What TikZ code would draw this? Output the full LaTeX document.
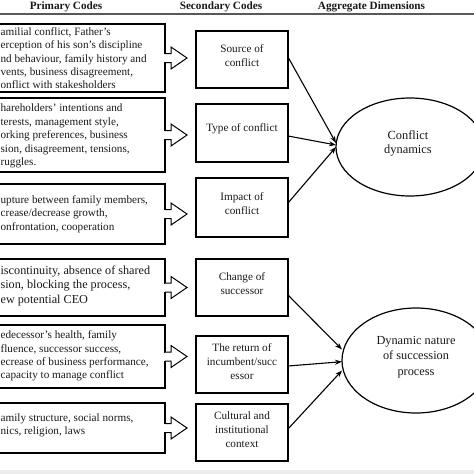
\documentclass[tikz,border=0pt]{standalone}
\usepackage{fontspec}
\setmainfont{Liberation Serif}
\usetikzlibrary{arrows.meta,shapes.geometric,calc}
\newcommand\myblockarrow[1]{%
  \fill[white] ([shift={(-1.2pt,4pt)}]#1.east) rectangle ([shift={(1.5pt,-4pt)}]#1.east);
  \draw[line width=1pt,fill=white] ([yshift=4.5pt]#1.east) -- ++(6,0) -- ++(0,-6.5) -- ++(16,11) -- ++(-16,11) -- ++(0,-6.5) -- ++(-6,0);
}
\begin{document}
\begin{tikzpicture}[x=1pt,y=-1pt,
  every node/.style={outer sep=0pt},
  pbox/.style={draw,line width=1.6pt,minimum width=185pt,inner sep=0pt,anchor=east},
  sbox/.style={draw,line width=1.2pt,minimum width=92pt,inner sep=0pt},
  ptext/.style={anchor=west,align=left,inner sep=0pt,text=black!90,font=\fontsize{11.2}{13.4}\selectfont},
  stext/.style={align=center,inner sep=0pt,text=black!90,font=\fontsize{11.2}{13.8}\selectfont},
  head/.style={inner sep=0pt,text=black!90,font=\bfseries\fontsize{11.2}{13}\selectfont},
  dim/.style={draw,ellipse,line width=1.2pt,inner sep=0pt,minimum width=148pt},
  etext/.style={align=center,inner sep=0pt,text=black!90},
  conn/.style={line width=1.1pt,-{Stealth[length=7pt,width=5pt]}}]
\useasboundingbox (0,0) rectangle (474,474);
\clip (0,0) rectangle (474,474);
\fill[black!7] (0,470) rectangle (474,474);
% header
\node[head] (h1) at (66,7) {Primary Codes};
\node[head] (h2) at (221,7) {Secondary Codes};
\node[head] (h3) at (371.5,7) {Aggregate Dimensions};
\coordinate (hl) at (0,14);
\coordinate (hr) at (474,14);
\draw[black!65,line width=1.4pt] (hl) -- (hr);
% primary boxes
\node[pbox,minimum height=68pt] (p1) at (165,58) {};
\node[pbox,minimum height=74pt] (p2) at (165,135) {};
\node[pbox,minimum height=60pt] (p3) at (165,214) {};
\node[pbox,minimum height=57pt] (p4) at (165,287.5) {};
\node[pbox,minimum height=63pt] (p5) at (165,356.5) {};
\node[pbox,minimum height=50pt] (p6) at (165,428) {};
\node[ptext] (p1t) at (0.6,58.3) {amilial conflict, Father’s\\erception of his son’s discipline\\nd behaviour, family history and\\vents, business disagreement,\\onflict with stakesholders};
\node[ptext] (p2t) at (0.6,136) {hareholders’ intentions and\\terests, management style,\\orking preferences, business\\sion, disagreement, tensions,\\ruggles.};
\node[ptext] (p3t) at (0.6,214) {upture between family members,\\crease/decrease growth,\\onfrontation, cooperation};
\node[ptext,font=\fontsize{12.2}{14.5}\selectfont] (p4t) at (0.6,285.7) {iscontinuity, absence of shared\\sion, blocking the process,\\ew potential CEO};
\node[ptext] (p5t) at (0.6,356) {edecessor’s health, family\\fluence, successor success,\\ecrease of business performance,\\capacity to manage conflict};
\node[ptext] (p6t) at (0.6,425.5) {amily structure, social norms,\\nics, religion, laws};
% block arrows
\myblockarrow{p1}
\myblockarrow{p2}
\myblockarrow{p3}
\myblockarrow{p4}
\myblockarrow{p5}
\myblockarrow{p6}
% secondary boxes
\node[sbox,minimum height=57pt] (s1) at (242,59.5) {};
\node[sbox,minimum height=58pt] (s2) at (242,133) {};
\node[sbox,minimum height=59pt] (s3) at (242,207.5) {};
\node[sbox,minimum height=57pt] (s4) at (242,287.5) {};
\node[sbox,minimum height=57pt] (s5) at (242,364.5) {};
\node[sbox,minimum height=57pt] (s6) at (242,432.5) {};
\node[stext] (s1t) at (242,55.7) {Source of\\conflict};
\node[stext] (s2t) at (242,129) {Type of conflict};
\node[stext] (s3t) at (242,203.5) {Impact of\\conflict};
\node[stext] (s4t) at (242,284) {Change of\\successor};
\node[stext] (s5t) at (242,361.5) {The return of\\incumbent/succ\\essor};
\node[stext] (s6t) at (242,429.6) {Cultural and\\institutional\\context};
% aggregate dimensions
\node[dim,minimum height=98pt] (e1) at (410,147) {};
\node[dim,minimum height=105pt] (e2) at (416,360.5) {};
\node[etext,font=\fontsize{12.4}{14.7}\selectfont] (e1t) at (408,143.5) {Conflict\\dynamics};
\node[etext,font=\fontsize{12.3}{15.3}\selectfont] (e2t) at (416,357) {Dynamic nature\\of succession\\process};
% connectors
\draw[conn] ([yshift=2.5pt]s1.east) -- ([yshift=4pt]e1.west);
\draw[conn] ([yshift=-3pt]s2.east) -- ([yshift=2pt]e1.west);
\draw[conn] ([yshift=4.5pt]s3.east) -- ([yshift=0pt]e1.west);
\draw[conn] ([yshift=-7.5pt]s4.east) -- ([yshift=11pt]e2.west);
\draw[conn] ([yshift=-1.5pt]s5.east) -- ([yshift=-1.2pt]e2.west);
\draw[conn] ([yshift=3.5pt]s6.east) -- ([yshift=-10pt]e2.west);
\end{tikzpicture}
\end{document}
